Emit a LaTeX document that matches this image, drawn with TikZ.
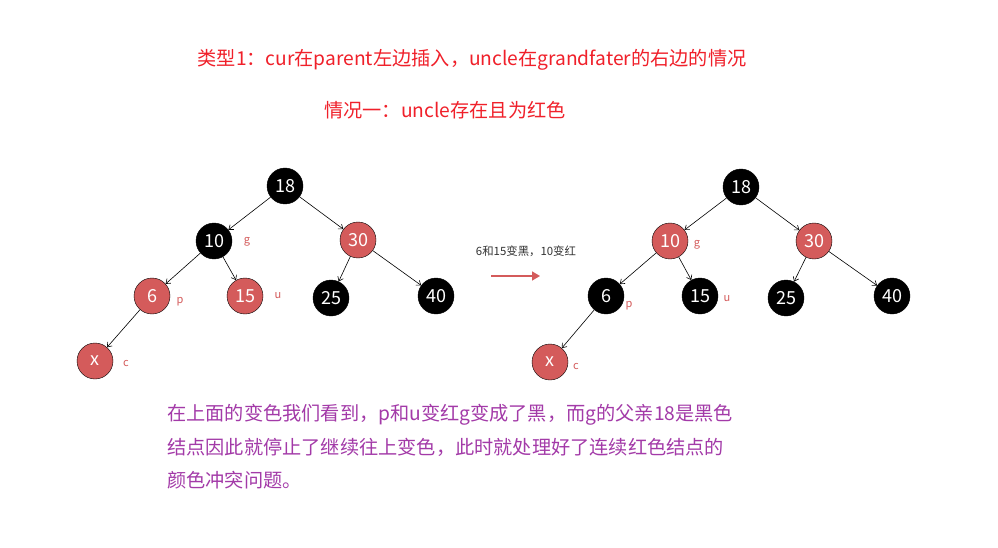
\documentclass[tikz,border=0pt]{standalone}
\usepackage{fontspec}
\usetikzlibrary{arrows.meta}
\setmainfont{Noto Sans CJK SC}
\definecolor{rbred}{HTML}{D45B5B}
\definecolor{ttl}{HTML}{F0202A}
\definecolor{purp}{HTML}{A33AA8}
\begin{document}
\begin{tikzpicture}[x=1pt,y=-1pt,
  rn/.style={circle,draw=black,fill=rbred,text=white,minimum size=36pt,inner sep=0pt,font=\fontsize{18}{20}\selectfont},
  bn/.style={circle,draw=black,fill=black,text=white,minimum size=36pt,inner sep=0pt,font=\fontsize{18}{20}\selectfont},
  lb/.style={text=rbred,font=\fontsize{11}{13}\selectfont,inner sep=0pt},
  ed/.style={-{Straight Barb[length=4pt,width=6pt]},black,line width=0.6pt}]
\fill[white] (0,0) rectangle (998,548);
\node[text=ttl,font=\fontsize{19.2}{23}\selectfont] (t1) at (472,60) {类型1：cur在parent左边插入，uncle在grandfater的右边的情况};
\node[text=ttl,font=\fontsize{19.2}{23}\selectfont] (t2) at (445,110) {情况一：uncle存在且为红色};
% left tree
\node[bn] (a18) at (285,186) {18};
\node[bn] (a10) at (214,241) {10};
\node[rn] (a30) at (358,240) {30};
\node[rn] (a6) at (152,296) {6};
\node[rn] (a15) at (245,296) {15};
\node[bn] (a25) at (331,298) {25};
\node[bn] (a40) at (436,296) {40};
\node[rn] (ax) at (95,361) {x};
\draw[ed] (a18)--(a10); \draw[ed] (a18)--(a30);
\draw[ed] (a10)--(a6); \draw[ed] (a10)--(a15);
\draw[ed] (a30)--(a25); \draw[ed] (a30)--(a40);
\draw[ed] (a6)--(ax);
\node[lb] (ag) at (247,242) {g};
\node[lb] (ap) at (180,302) {p};
\node[lb] (au) at (278,296) {u};
\node[lb] (ac) at (126,364) {c};
% arrow
\node[font=\fontsize{11.4}{13}\selectfont,text=black!80] (al) at (526,251) {6和15变黑，10变红};
\coordinate (as) at (491,276); \coordinate (ae) at (540,276);
\draw[-{Triangle[length=8pt,width=9pt]},rbred,line width=1.6pt] (as)--(ae);
% right tree
\node[bn] (b18) at (741,187) {18};
\node[rn] (b10) at (670,241) {10};
\node[rn] (b30) at (814,241) {30};
\node[bn] (b6) at (606,296) {6};
\node[bn] (b15) at (700,296) {15};
\node[bn] (b25) at (786,298) {25};
\node[bn] (b40) at (892,296) {40};
\node[rn] (bx) at (550,362) {x};
\draw[ed] (b18)--(b10); \draw[ed] (b18)--(b30);
\draw[ed] (b10)--(b6); \draw[ed] (b10)--(b15);
\draw[ed] (b30)--(b25); \draw[ed] (b30)--(b40);
\draw[ed] (b6)--(bx);
\node[lb] (bg) at (697,245) {g};
\node[lb] (bp) at (629,306) {p};
\node[lb] (bu) at (727,299) {u};
\node[lb] (bc) at (576,367) {c};
% paragraph
\node[text=purp,font=\fontsize{19.2}{33.5}\selectfont,anchor=north west,align=left,inner sep=0pt] (para) at (167,404)
{在上面的变色我们看到，p和u变红g变成了黑，而g的父亲18是黑色\\结点因此就停止了继续往上变色，此时就处理好了连续红色结点的\\颜色冲突问题。};
\end{tikzpicture}
\end{document}
